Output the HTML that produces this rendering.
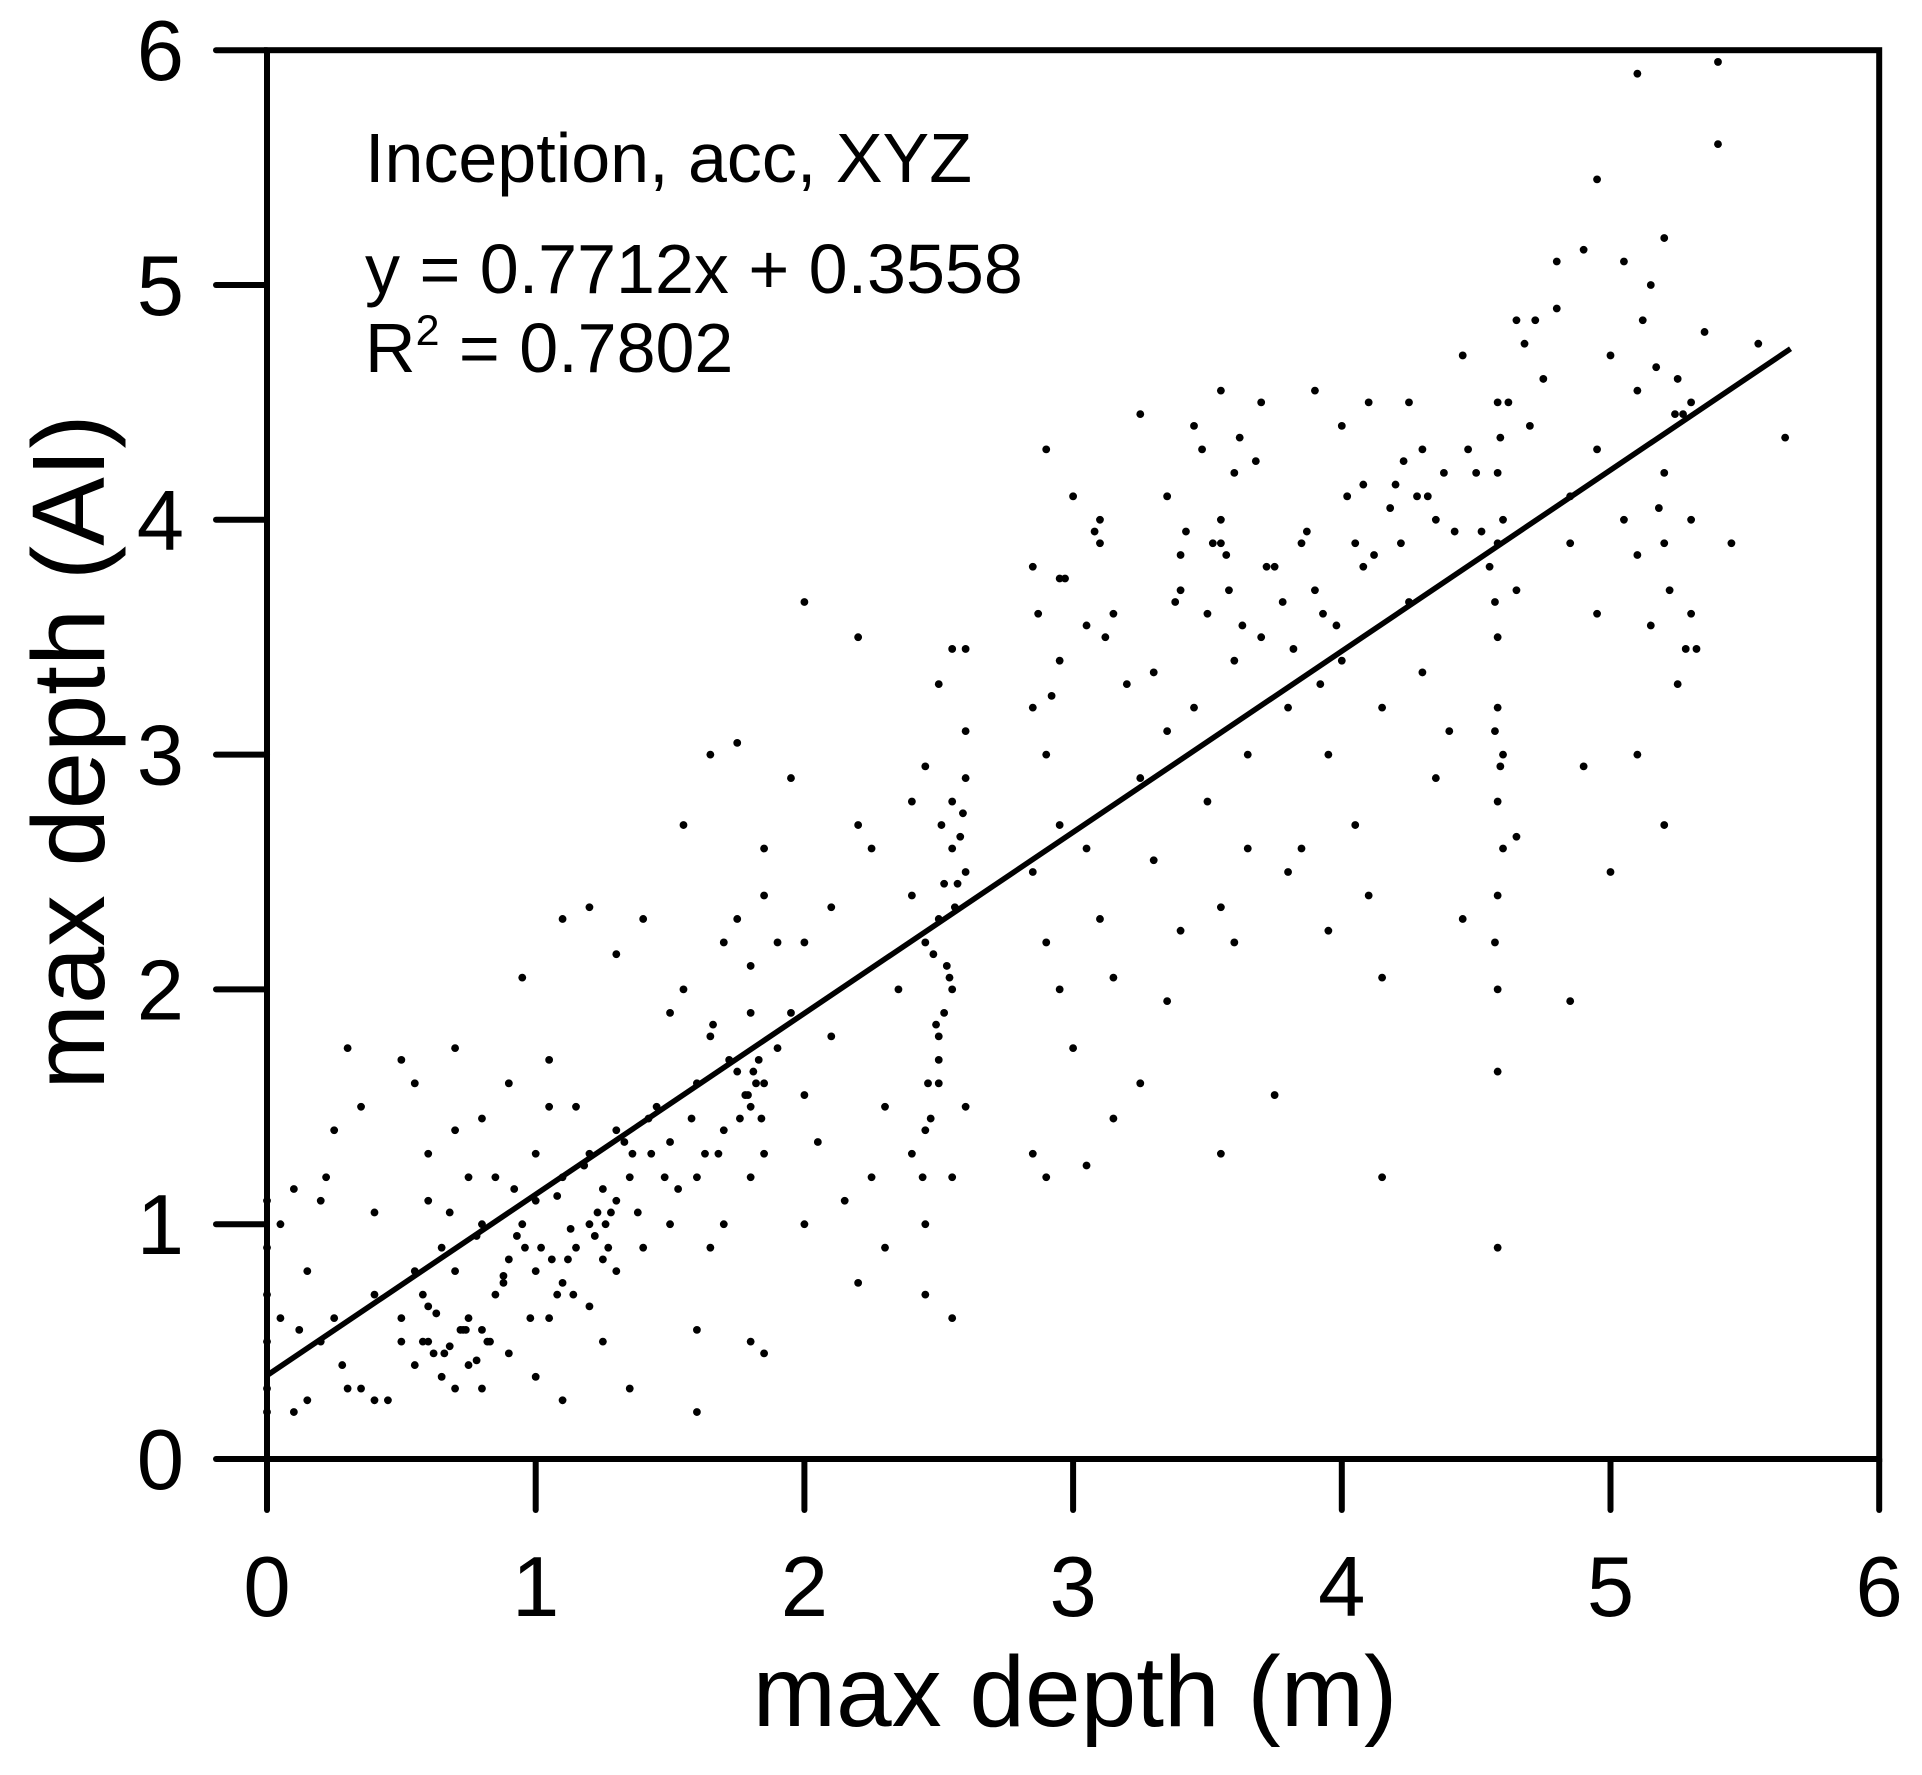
<!DOCTYPE html>
<html><head><meta charset="utf-8"><style>
html,body{margin:0;padding:0;background:#fff;}
svg{display:block;}
text{font-family:"Liberation Sans",Arial,sans-serif;fill:#000;}
</style></head><body>
<svg id="chart" width="1922" height="1775" viewBox="0 0 1922 1775" xmlns="http://www.w3.org/2000/svg">
<g id="axes"></g>
<g id="points"></g>
<g id="fit"></g>
<text x="365" y="182" font-size="70">Inception, acc, XYZ</text>
<text x="365" y="293" font-size="70">y = 0.7712x + 0.3558</text>
<text x="365" y="372" font-size="70">R<tspan font-size="43" dy="-27">2</tspan><tspan dy="27"> = 0.7802</tspan></text>
<text x="1075" y="1726" font-size="100" text-anchor="middle">max depth (m)</text>
<text transform="translate(104,752) rotate(-90)" font-size="103" text-anchor="middle">max depth (AI)</text>
</svg>
<script>
const xTicks=[0,1,2,3,4,5,6];
const yTicks=[0,1,2,3,4,5,6];
const slope=0.7712, intercept=0.3558, fitXMax=5.67;
const xs=[0,0,0,0,0,0,0.05,0.05,0.1,0.1,0.12,0.15,0.15,0.2,0.2,0.22,0.25,0.25,0.28,0.3,0.3,0.35,0.35,0.4,0.4,0.4,0.45,0.5,0.5,0.5,0.55,0.55,0.55,0.6,0.6,0.6,0.6,0.65,0.65,0.7,0.7,0.7,0.7,0.75,0.75,0.75,0.8,0.8,0.8,0.8,0.85,0.85,0.9,0.9,0.9,0.95,0.95,1.0,1.0,1.0,1.0,1.05,1.05,1.05,1.1,1.1,1.1,1.1,1.15,1.15,1.2,1.2,1.2,1.2,1.25,1.25,1.25,1.3,1.3,1.3,1.3,1.35,1.35,1.4,1.4,1.45,1.5,1.5,1.5,1.55,1.55,1.6,1.6,1.6,1.6,1.65,1.65,1.65,1.7,1.7,1.7,1.75,1.75,1.75,1.8,1.8,1.8,1.8,1.8,1.85,1.85,1.85,1.85,1.85,1.9,1.9,1.95,1.95,2.0,2.0,2.0,2.0,2.05,2.1,2.1,2.15,2.2,2.2,2.2,2.25,2.25,2.3,2.3,2.35,2.4,2.4,2.4,2.45,2.45,2.45,2.45,2.45,2.5,2.5,2.5,2.5,2.55,2.55,2.55,2.55,2.55,2.55,2.6,2.6,2.6,2.6,2.6,2.85,2.85,2.85,2.85,2.9,2.9,2.9,2.9,2.95,2.95,2.95,2.95,3.0,3.0,3.05,3.05,3.05,3.1,3.1,3.1,3.15,3.15,3.15,3.2,3.25,3.25,3.25,3.3,3.3,3.35,3.35,3.35,3.4,3.4,3.4,3.45,3.45,3.5,3.5,3.55,3.55,3.55,3.55,3.6,3.6,3.6,3.65,3.65,3.7,3.7,3.75,3.75,3.8,3.8,3.85,3.85,3.9,3.9,3.95,3.95,4.0,4.0,4.05,4.05,4.1,4.1,4.15,4.15,4.15,4.2,4.25,4.25,4.3,4.3,4.35,4.35,4.4,4.45,4.45,4.5,4.55,4.58,4.58,4.58,4.58,4.58,4.58,4.58,4.58,4.58,4.58,4.6,4.6,4.6,4.65,4.65,4.65,4.7,4.75,4.8,4.8,4.85,4.85,4.85,4.9,4.9,4.95,4.95,4.95,5.0,5.0,5.05,5.05,5.1,5.1,5.1,5.1,5.15,5.15,5.2,5.2,5.2,5.2,5.25,5.25,5.3,5.3,5.3,5.35,5.4,5.4,5.45,5.55,5.65,
0.62,0.68,0.72,0.78,0.83,0.88,0.92,0.98,1.02,1.08,1.12,1.18,1.22,1.28,1.33,0.58,0.66,0.74,0.82,0.96,1.06,1.14,1.26,1.36,1.42,1.48,1.58,1.68,1.72,1.78,1.82,1.83,1.84,2.48,2.5,2.52,2.53,2.56,2.58,2.47,2.49,2.51,3.55,3.57,3.62,3.92,3.98,4.02,4.08,4.22,4.28,4.38,4.42,4.57,4.57,4.57,4.59,4.59,5.22,5.28,5.18,5.24,
0.58,0.63,0.68,0.73,0.78,0.88,0.93,1.08,1.13,1.18,1.23,1.27,1.38,1.43,1.53,1.63,1.66,1.76,1.79,1.81,2.44,2.46,2.54,2.57,2.59,2.52,2.87,2.92,2.97,3.08,3.12,3.38,3.42,3.48,3.52,3.58,3.63,3.68,3.72,3.78,3.82,3.87,3.93,4.08,4.12,4.18,4.23,4.32,4.47,4.52,4.62,4.68,4.72,5.12,5.17,5.27,5.32];
const ys=[0.3,0.5,0.7,0.9,1.1,0.2,1.0,0.6,1.15,0.2,0.55,0.8,0.25,0.5,1.1,1.2,1.4,0.6,0.4,1.75,0.3,0.3,1.5,0.25,0.7,1.05,0.25,0.6,1.7,0.5,0.4,0.8,1.6,0.5,0.65,1.1,1.3,0.9,0.35,0.3,1.4,1.75,0.8,0.6,1.2,0.4,0.55,1.0,0.3,1.45,1.2,0.7,0.85,1.6,0.45,1.0,2.05,0.8,1.1,1.3,0.35,0.6,1.5,1.7,0.75,0.25,1.2,2.3,0.9,1.5,1.0,0.65,2.35,1.3,0.85,1.15,0.5,1.1,1.4,0.8,2.15,0.3,1.2,2.3,0.9,1.5,1.35,1.9,1.0,2.0,2.7,0.55,0.2,1.6,1.2,1.8,3.0,0.9,1.4,2.2,1.0,2.3,3.05,1.65,1.5,1.9,2.1,0.5,1.2,2.6,1.6,1.3,0.45,2.4,2.2,1.75,2.9,1.9,2.2,3.65,1.55,1.0,1.35,1.8,2.35,1.1,2.7,0.75,3.5,2.6,1.2,1.5,0.9,2.0,2.4,1.3,2.8,1.0,2.2,1.4,0.7,2.95,1.8,2.3,1.6,3.3,2.6,2.0,1.2,0.6,3.45,2.8,3.1,2.5,1.5,2.9,3.45,3.2,2.5,3.8,1.3,4.3,3.0,2.2,1.2,3.4,2.7,3.75,2.0,4.1,1.75,3.55,2.6,1.25,3.9,2.3,4.0,3.6,1.45,2.05,3.3,4.45,2.9,1.6,2.55,3.35,4.1,3.1,1.95,3.7,3.85,2.25,4.4,3.2,3.6,2.8,4.55,3.9,2.35,1.3,3.4,4.2,2.2,3.0,2.6,4.5,3.5,1.55,3.8,2.5,3.2,2.6,3.9,4.55,3.7,3.0,2.25,3.4,4.4,2.7,3.9,4.5,2.4,2.05,1.2,3.2,4.15,4.5,3.65,3.35,4.3,2.9,4.0,3.1,4.7,2.3,4.2,3.8,0.9,1.65,2.0,2.4,2.8,3.2,3.5,3.9,4.2,4.5,2.6,3.0,4.0,3.7,4.85,2.65,4.4,4.6,4.9,5.1,4.1,3.9,1.95,2.95,5.15,3.6,4.3,5.45,2.5,4.7,5.1,4.0,3.0,4.55,5.9,3.85,5.0,3.55,4.2,5.2,3.9,2.7,3.3,4.6,4.0,3.6,4.5,4.8,5.6,5.95,3.9,4.75,4.35,
0.45,1.05,0.55,0.95,0.5,0.75,1.15,0.6,0.9,0.7,0.85,1.25,0.95,1.05,1.35,0.7,0.45,0.55,0.5,0.9,0.85,0.7,1.0,1.3,1.45,1.2,1.45,1.3,1.7,1.55,1.6,1.7,1.45,2.15,1.7,2.45,2.1,2.35,2.65,1.45,1.85,2.7,4.0,3.85,4.35,3.3,3.55,4.1,3.8,3.9,4.1,4.2,3.95,3.1,2.2,3.65,4.35,2.95,3.7,3.45,4.05,4.45,
0.5,0.62,0.48,0.55,0.42,0.78,0.95,1.12,0.98,1.25,1.05,0.9,1.05,1.3,1.15,1.3,1.85,1.45,1.55,1.65,1.2,1.6,2.05,2.45,2.75,1.9,3.6,3.25,3.75,3.95,3.5,3.65,3.95,4.3,3.9,3.7,3.55,4.25,3.8,3.65,3.45,3.95,3.6,4.15,3.85,4.05,4.25,4.1,4.3,3.95,4.5,4.75,4.85,4.85,4.65,4.45,3.45];
const X0=267, XU=268.7, Y0=1459, YU=234.8;
const sx=v=>X0+v*XU, sy=v=>Y0-v*YU;
const NS='http://www.w3.org/2000/svg';
function mk(tag,attrs,parent){const e=document.createElementNS(NS,tag);for(const k in attrs)e.setAttribute(k,attrs[k]);parent.appendChild(e);return e;}
const axes=document.getElementById('axes');
const frame=mk('rect',{x:sx(0),y:sy(6),width:sx(6)-sx(0),height:sy(0)-sy(6),fill:'none',stroke:'#000','stroke-width':6},axes);


xTicks.forEach(t=>{
  const l=mk('line',{x1:sx(t),x2:sx(t),y1:Y0,y2:Y0+51,stroke:'#000','stroke-width':6,'stroke-linecap':'round'},axes);
  
  
  const tx=mk('text',{x:sx(t),y:1616,'font-size':85,'text-anchor':'middle'},axes);
  tx.textContent=t;
  
  
});
yTicks.forEach(t=>{
  const l=mk('line',{x1:X0-51,x2:X0,y1:sy(t),y2:sy(t),stroke:'#000','stroke-width':6,'stroke-linecap':'round'},axes);
  
  
  const tx=mk('text',{x:184,y:sy(t)+30,'font-size':85,'text-anchor':'end'},axes);
  tx.textContent=t;
  
  
});
const pg=document.getElementById('points');
for(let i=0;i<xs.length&&i<ys.length;i++){
  const c=mk('circle',{cx:sx(xs[i]),cy:sy(ys[i]),r:3.9,fill:'#000'},pg);
  
  
}
const fl=mk('line',{x1:sx(0),y1:sy(intercept),x2:sx(fitXMax),y2:sy(slope*fitXMax+intercept),stroke:'#000','stroke-width':5.5},document.getElementById('fit'));


</script>
</body></html>
